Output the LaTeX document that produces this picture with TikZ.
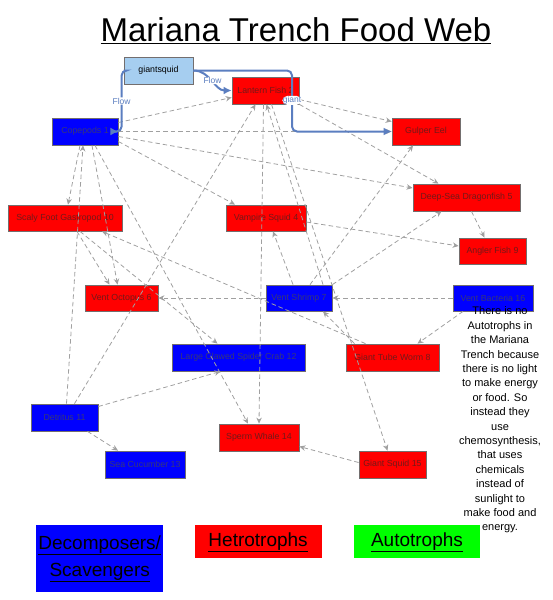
\documentclass[tikz,border=0pt]{standalone}
\usepackage{fontspec}
\setmainfont{Liberation Sans}
\definecolor{web-red}{RGB}{255,0,0}
\definecolor{web-blue}{RGB}{0,0,255}
\definecolor{web-green}{RGB}{0,255,0}
\definecolor{web-sky}{RGB}{166,206,240}
\definecolor{web-dash}{RGB}{160,160,160}
\definecolor{web-flow}{RGB}{91,126,192}
\definecolor{web-rim}{RGB}{115,110,110}
\definecolor{web-ink-red}{RGB}{115,25,25}
\definecolor{web-ink-blue}{RGB}{55,55,120}
\usetikzlibrary{positioning,arrows.meta}

\begin{document}
\begin{tikzpicture}[x=1pt,y=-1pt,
    critter/.style={draw=web-rim, line width=0.8pt, inner sep=1pt, minimum height=27pt,
        font=\fontsize{8.8}{10}\selectfont},
    hetro/.style={critter, fill=web-red, text=web-ink-red},
    decomp/.style={critter, fill=web-blue, text=web-ink-blue},
    eats/.style={web-dash, line width=0.8pt, dash pattern=on 4.5pt off 3pt,
        -{Stealth[length=6pt,width=5.5pt]}},
    flow/.style={web-flow, line width=2pt, rounded corners=5pt,
        -{Latex[length=8pt,width=8pt]}},
    flowtag/.style={fill=white, inner sep=0.5pt, text=web-flow, font=\fontsize{8.5}{9}\selectfont},
    key/.style={minimum height=33pt, inner sep=0pt, text=black,
        font=\fontsize{19}{27}\selectfont}]
    \useasboundingbox (0,0) rectangle (553,600);

    % title
    \node[font=\fontsize{33}{38}\selectfont] (title) at (296,31) {\underline{Mariana Trench Food Web}};

    % the web
    \node[critter, fill=web-sky, minimum width=69pt, text=black] (gsq) at (158.5,70.5) {giantsquid};
    \node[hetro, minimum width=67pt] (lant) at (265.5,90.5) {Lantern Fish 2};
    \node[decomp, minimum width=66pt] (cope) at (85,131.5) {Copepods 1};
    \node[hetro, minimum width=68pt] (gulp) at (426,131.5) {Gulper Eel};
    \node[hetro, minimum width=114pt, minimum height=26pt] (gast) at (65,218) {Scaly Foot Gastropod 10};
    \node[hetro, minimum width=80pt, minimum height=26pt] (vamp) at (266,218) {Vampire Squid 4};
    \node[hetro, minimum width=107pt] (drag) at (466.5,197.5) {Deep-Sea Dragonfish 5};
    \node[hetro, minimum width=67pt, minimum height=26pt] (angl) at (492.5,251) {Angler Fish 9};
    \node[hetro, minimum width=73pt, minimum height=26pt] (octo) at (121.5,298) {Vent Octopus 6};
    \node[decomp, minimum width=66pt, minimum height=26pt] (shri) at (299,298) {Vent Shrimp 7};
    \node[decomp, minimum width=80pt, minimum height=26pt] (bact) at (493,298) {Vent Bacteria 16};
    \node[decomp, minimum width=133pt] (crab) at (238.5,357.5) {Large Clawed Spider Crab 12};
    \node[hetro, minimum width=93pt] (tube) at (392.5,357.5) {Giant Tube Worm 8};
    \node[decomp, minimum width=67pt] (detr) at (64.5,417.5) {Detritus 11};
    \node[decomp, minimum width=80pt] (cucu) at (145,464.5) {Sea Cucumber 13};
    \node[hetro, minimum width=80pt] (whal) at (259,437.5) {Sperm Whale 14};
    \node[hetro, minimum width=67pt] (gsqu) at (392.5,464.5) {Giant Squid 15};

    % who is eaten by whom
    \draw[eats] ([yshift=9pt]cope.east) -- ([yshift=-7pt]lant.west);
    \draw[eats] (cope.east) -- (gulp.west);
    \draw[eats] ([yshift=-5pt]cope.east) -- ([yshift=9.5pt]drag.west);
    \draw[eats] ([yshift=-10pt]cope.east) -- ([xshift=-31pt]vamp.north);
    \draw[eats] ([xshift=-5pt]cope.south) -- ([xshift=3pt]gast.north);
    \draw[eats] ([xshift=7pt]cope.south) -- ([xshift=-4pt]octo.north);
    \draw[eats] ([xshift=10pt]cope.south) -- ([xshift=-11pt]whal.north);
    \draw[eats] ([xshift=2pt]detr.north) -- ([xshift=-2pt]cope.south);
    \draw[eats] ([xshift=10pt]detr.north) -- ([xshift=-10pt]lant.south);
    \draw[eats] ([yshift=11pt]detr.east) -- ([xshift=-18pt]crab.south);
    \draw[eats] ([xshift=23pt]detr.south) -- ([xshift=-27pt]cucu.north);
    \draw[eats] ([xshift=12pt]gast.south) -- ([xshift=-12pt]octo.north);
    \draw[eats] ([xshift=15pt]gast.south) -- ([xshift=-21pt]crab.north);
    \draw[eats] ([xshift=-27pt]tube.north) -- ([xshift=37pt]gast.south);
    \draw[eats] ([yshift=-9pt]lant.east) -- ([yshift=10pt]gulp.west);
    \draw[eats] (lant.south east) -- ([xshift=-28pt]drag.north);
    \draw[eats] ([xshift=-2pt]lant.south) -- (whal.north);
    \draw[eats] ([xshift=6pt]lant.south) -- ([xshift=-5pt]gsqu.north);
    \draw[eats] ([xshift=24pt]shri.north) -- ([xshift=1pt]lant.south);
    \draw[eats] ([xshift=-6pt]shri.north) -- ([xshift=7pt]vamp.south);
    \draw[eats] ([xshift=11pt]shri.north) -- ([xshift=-13pt]gulp.south);
    \draw[eats] (shri.north east) -- ([xshift=-25pt]drag.south);
    \draw[eats] (shri.west) -- (octo.east);
    \draw[eats] (bact.west) -- (shri.east);
    \draw[eats] ([xshift=-38pt]tube.north) -- ([xshift=24pt]shri.south);
    \draw[eats] ([xshift=-30pt]bact.south) -- ([xshift=25pt]tube.north);
    \draw[eats] ([yshift=-4pt]vamp.east) -- ([yshift=5pt]angl.west);
    \draw[eats] ([xshift=5pt]drag.south) -- ([xshift=-8pt]angl.north);
    \draw[eats] ([yshift=2pt]gsqu.west) -- ([yshift=-9pt]whal.east);

    % flow from the giant squid
    \coordinate (gbend) at (292,70.5);
    \draw[flow] (gsq.west) -- ++(-2,0) |- (cope.east) node[flowtag, pos=0.25] {Flow};
    \draw[flow] (gsq.east) to[out=0,in=180] node[flowtag] {Flow} (lant.west);
    \draw[flow] (gsq.east) -- (gbend) |- (gulp.west) node[flowtag, pos=0.245] {giant};

    % key
    \node[key, fill=web-blue, minimum width=127pt, minimum height=67pt, align=center, anchor=north west]
        (deckey) at (36,525) {\underline{Decomposers/}\\\underline{Scavengers}};
    \node[key, fill=web-red, minimum width=127pt, text depth=5pt, anchor=north west]
        (hetkey) at ([xshift=31pt]deckey.north east) {\underline{Hetrotrophs}};
    \node[key, fill=web-green, minimum width=126pt, text depth=5pt, anchor=north west]
        (autkey) at ([xshift=32pt]hetkey.north east) {\underline{Autotrophs}};

    \node[align=center, inner sep=0pt, font=\fontsize{11}{14.4}\selectfont] (note) at (500,420)
        {There is no\\Autotrophs in\\the Mariana\\Trench because\\there is no light\\to make energy\\or food. So\\instead they\\use\\chemosynthesis,\\that uses\\chemicals\\instead of\\sunlight to\\make food and\\energy.};
\end{tikzpicture}
\end{document}
